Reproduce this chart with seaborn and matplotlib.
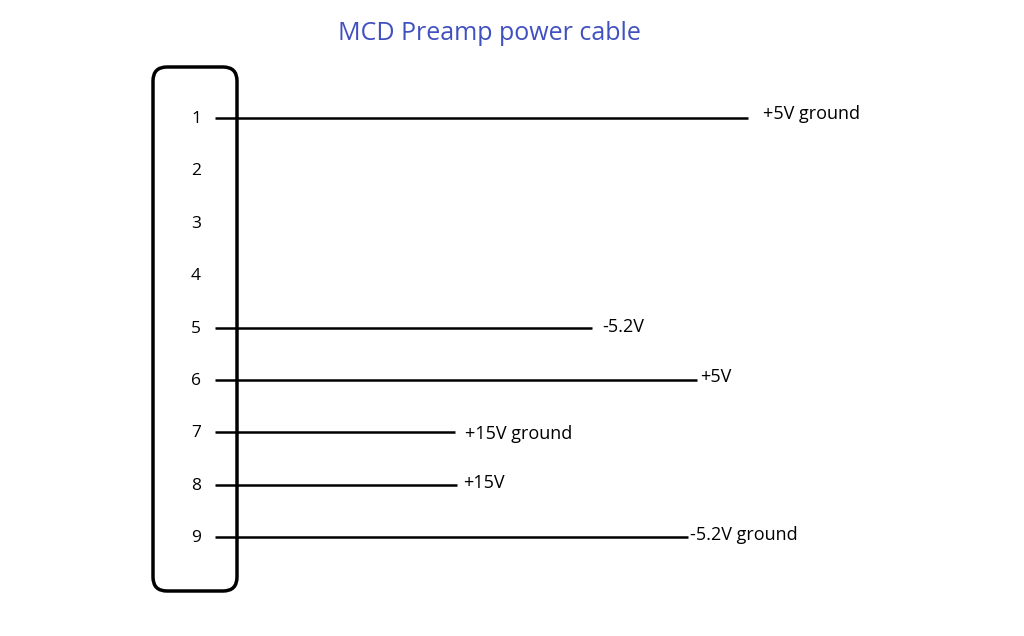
import matplotlib
matplotlib.use("Agg")
import matplotlib.pyplot as plt
from matplotlib.patches import FancyBboxPatch
import seaborn as sns

sns.set_style("white")
plt.rcParams['font.family'] = ['Open Sans', 'DejaVu Sans']

title = "MCD Preamp power cable"
pins = [1, 2, 3, 4, 5, 6, 7, 8, 9]
wired_pins = [1, 5, 6, 7, 8, 9]
wire_ends = [748, 592, 697, 455, 457, 688]
labels = ["+5V ground", "-5.2V", "+5V", "+15V ground", "+15V", "-5.2V ground"]
label_gap = [15, 10, 3, 10, 6, 2]
label_dy = [-4, -1, -3, 2, -2, -2]

fig = plt.figure(figsize=(10.24, 6.36), dpi=100)
ax = fig.add_axes([0, 0, 1, 1])
ax.set_xlim(0, 1024)
ax.set_ylim(636, 0)
ax.axis("off")

def pin_y(p):
    return 118 + (p - 1) * 52.4

box = FancyBboxPatch((153, 67), 84, 524, boxstyle="round,pad=0,rounding_size=14",
                     fill=False, lw=2.5, ec="black")
ax.add_patch(box)

for p in pins:
    ax.text(196, pin_y(p) + 1, str(p), ha="center", va="center", fontsize=12.5, color="black")

for p, xe, lab, g, dy in zip(wired_pins, wire_ends, labels, label_gap, label_dy):
    y = pin_y(p)
    ax.hlines(y, 215, xe, color="black", lw=1.8)
    ax.text(xe + g, y + dy, lab, ha="left", va="center", fontsize=13, color="black")

ax.text(489, 33, title, ha="center", va="center", fontsize=18, color="#4050c0")

fig.savefig("out.png", dpi=100)
